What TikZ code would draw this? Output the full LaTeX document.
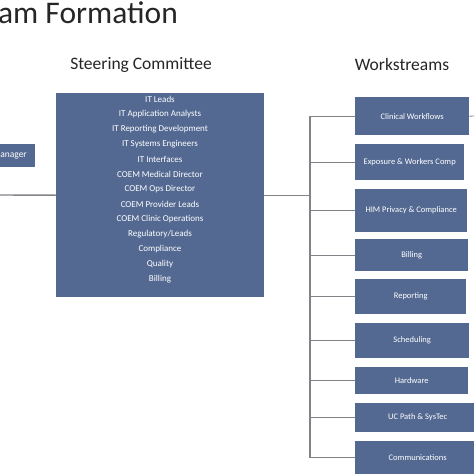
\documentclass[tikz,border=0pt]{standalone}
\usepackage{fontspec}
\setmainfont{Carlito}
\definecolor{BoxBlue}{RGB}{84,105,146}
\definecolor{LinkGray}{RGB}{130,130,136}
\usetikzlibrary{positioning,calc}

\begin{document}
\begin{tikzpicture}[x=1pt,y=-1pt,
    box/.style={draw=none,fill=BoxBlue,text=white,inner sep=0pt},
    wsbox/.style={box,anchor=north west,font=\fontsize{8.5}{10}\selectfont,align=center},
    head/.style={font=\fontsize{17.5}{19}\selectfont,text=black!85,inner sep=0pt},
    link/.style={draw=LinkGray,line width=1.4pt}]
    \useasboundingbox (0,0) rectangle (474,474);
    \clip (0,0) rectangle (474,474);
    % title and headings
    \node[anchor=base east,font=\fontsize{31.5}{34}\selectfont,text=black!85,inner sep=0pt] (title) at (178,23) {Team Formation};
    \node[head,anchor=base] (schead) at (141,69) {Steering Committee};
    \node[head,anchor=base] (wshead) at (402,70) {Workstreams};
    % manager, cut at the left edge
    \node[box,anchor=east,minimum height=23pt,inner xsep=8pt,text width=50pt,align=right,
          font=\fontsize{9.5}{10}\selectfont] (mgr) at (35,155) {Manager};
    % steering committee
    \node[box,anchor=north west,minimum width=208pt,minimum height=204pt] (sc) at (56,93) {};
    \foreach \name [count=\i from 0] in {IT Leads,IT Application Analysts,IT Reporting Development,
        IT Systems Engineers,IT Interfaces,COEM Medical Director,COEM Ops Director,
        COEM Provider Leads,COEM Clinic Operations,Regulatory/Leads,Compliance,Quality,Billing}
      \node[text=white,font=\fontsize{9}{10}\selectfont,inner sep=0pt] (sc\i) at (160,{99+15*\i}) {\name};
    % workstreams
    \node[wsbox,minimum width=114pt,minimum height=38pt] (ws1) at (355,97)  {Clinical Workflows};
    \node[wsbox,minimum width=109pt,minimum height=36pt] (ws2) at (355,144) {Exposure \& Workers Comp};
    \node[wsbox,minimum width=112pt,minimum height=43pt] (ws3) at (355,189) {HIM Privacy \& Compliance};
    \node[wsbox,minimum width=113pt,minimum height=32pt] (ws4) at (355,239) {Billing};
    \node[wsbox,minimum width=111pt,minimum height=35pt] (ws5) at (355,279) {Reporting};
    \node[wsbox,minimum width=114pt,minimum height=35pt] (ws6) at (355,323) {Scheduling};
    \node[wsbox,minimum width=113pt,minimum height=27pt] (ws7) at (355,367) {Hardware};
    \node[wsbox,minimum width=125pt,minimum height=29pt] (ws8) at (355,403) {UC Path \& SysTec};
    \node[wsbox,minimum width=125pt,minimum height=33pt] (ws9) at (355,441) {Communications};
    % connectors
    \coordinate (busTop) at (310,116);
    \coordinate (leftEnd) at (0,195);
    \coordinate (rightEnd) at (474,116);
    \draw[link] (leftEnd) -- (sc.west);
    \draw[link] (sc.east) -- (sc.east -| busTop);
    \draw[link] (busTop |- ws1.west) -- (busTop |- ws9.west);
    \foreach \i in {1,...,9}
      \draw[link] (busTop |- ws\i.west) -- (ws\i.west);
    \draw[draw=LinkGray,line width=0.8pt] (ws1.east) -- (rightEnd);
\end{tikzpicture}
\end{document}
